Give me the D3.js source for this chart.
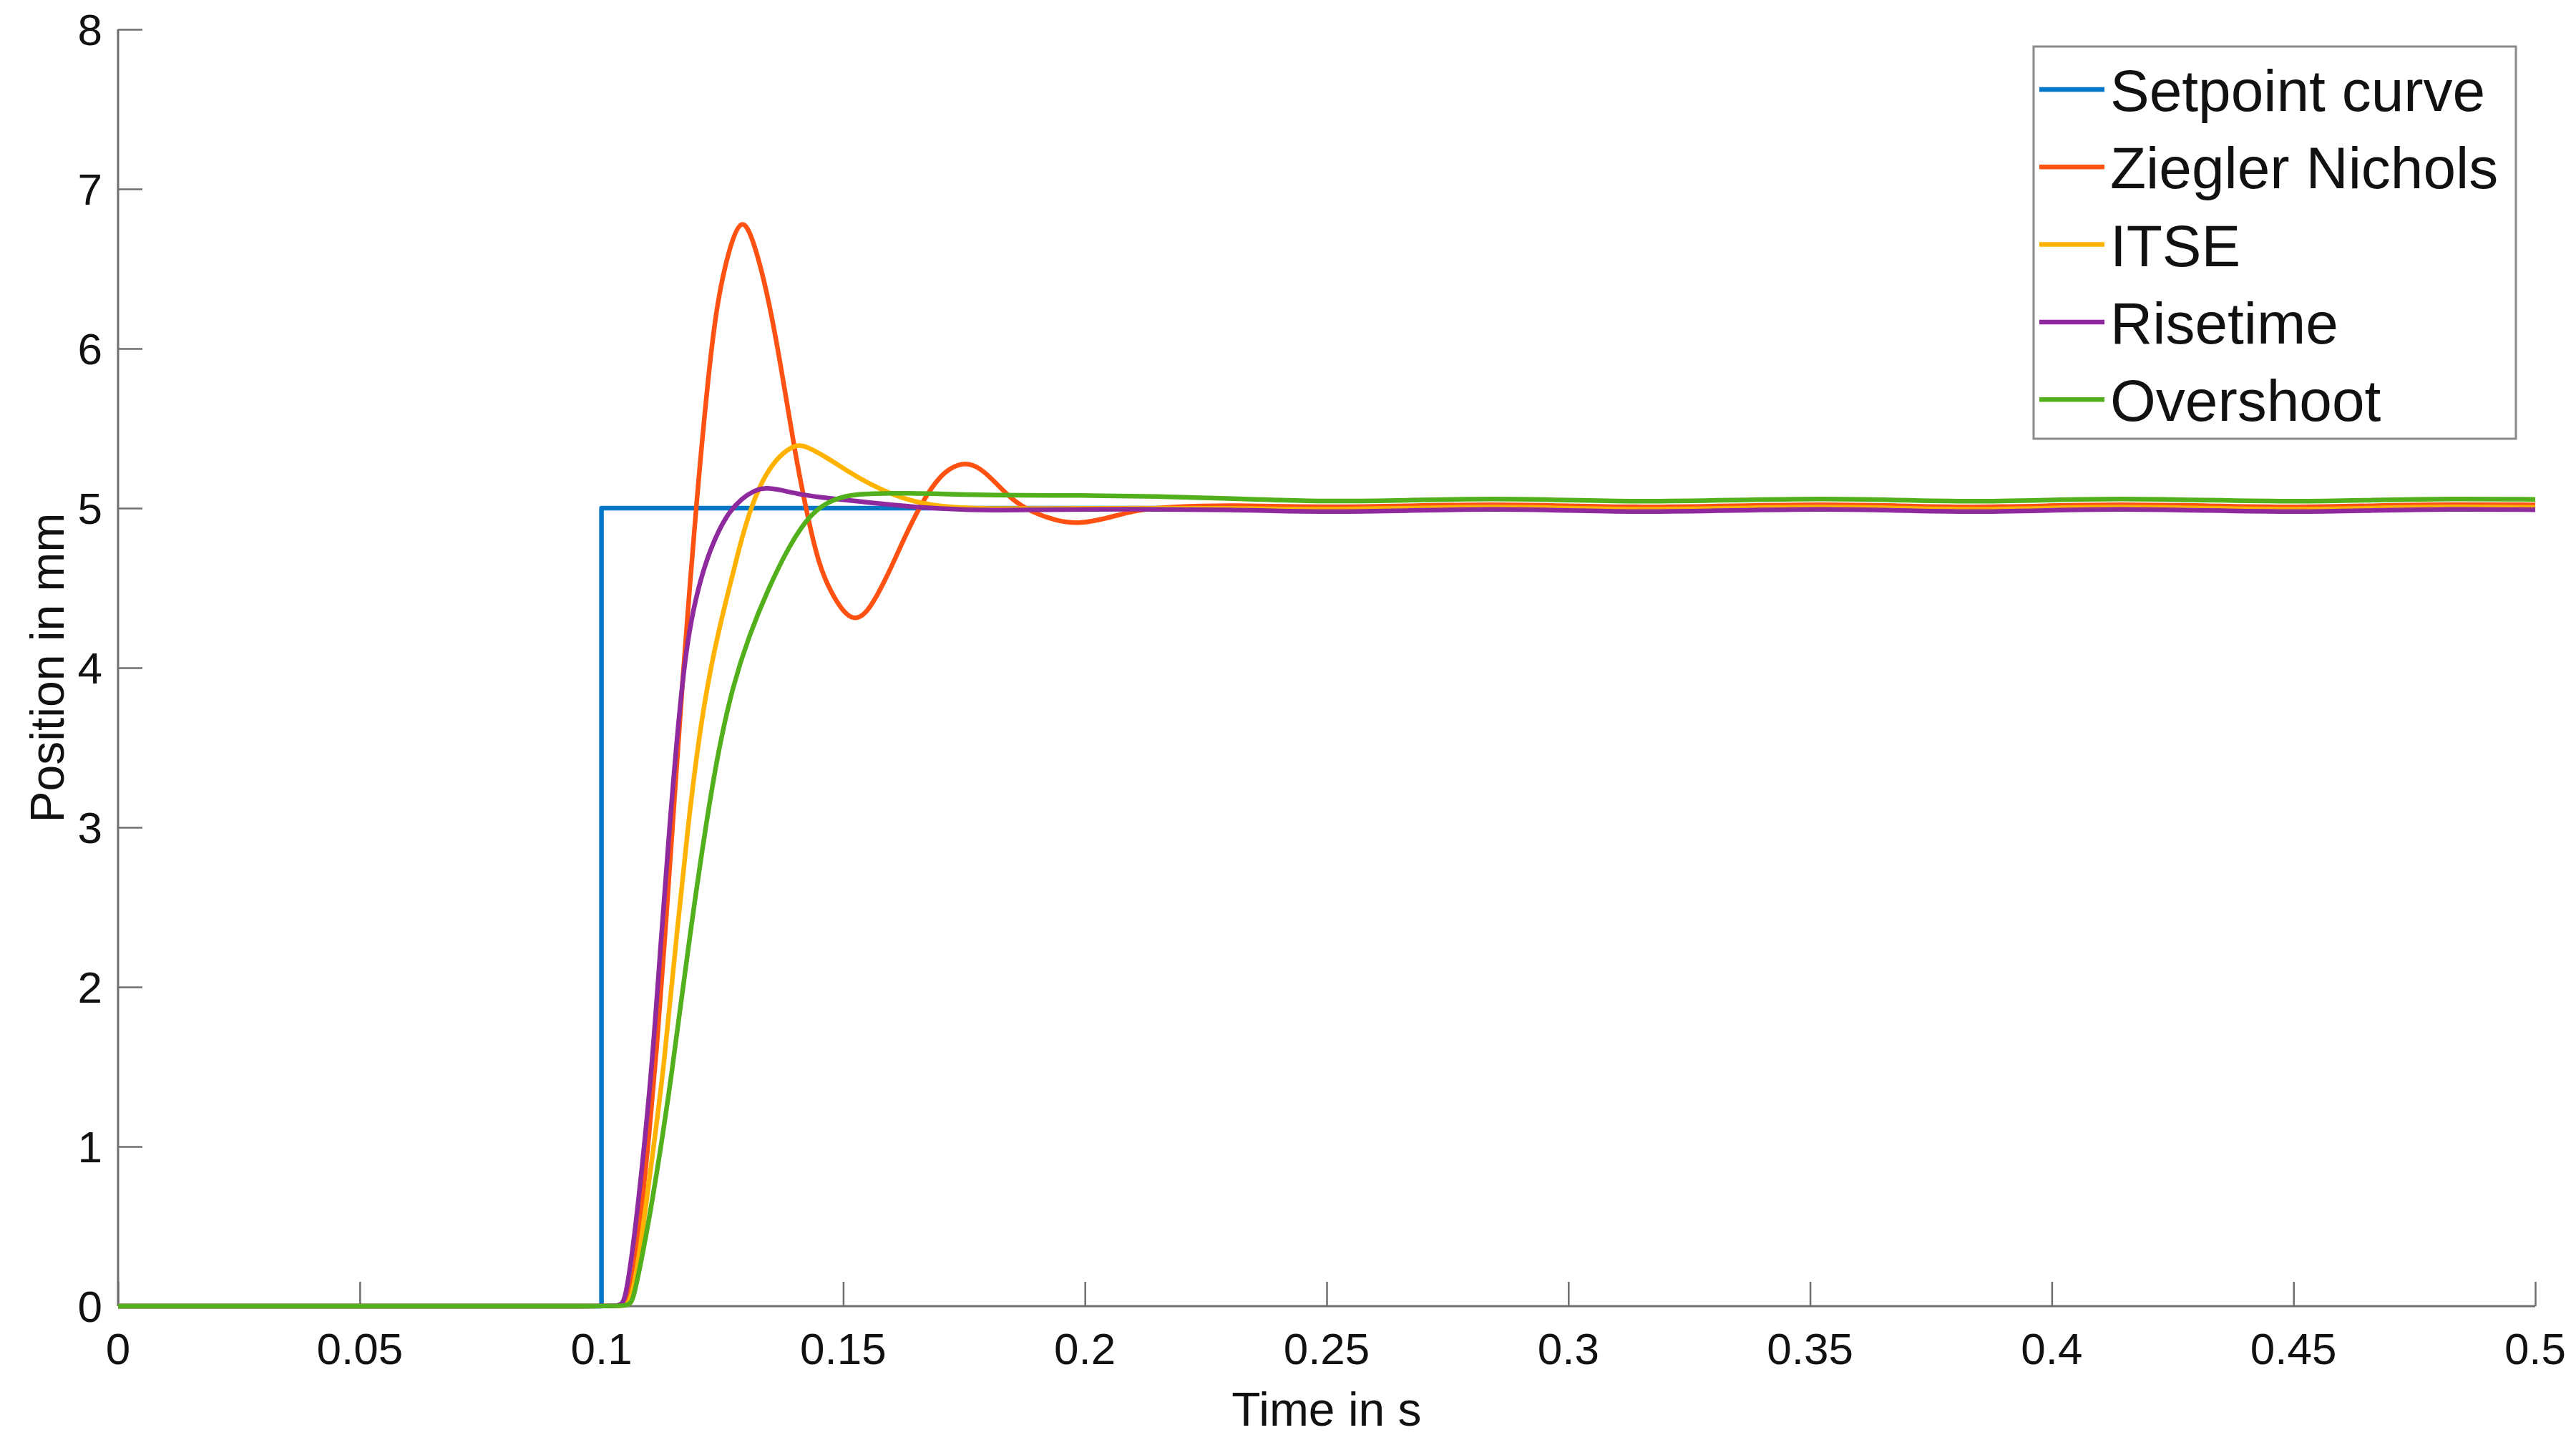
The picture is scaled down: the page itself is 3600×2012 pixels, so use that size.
<!DOCTYPE html>
<html>
<head>
<meta charset="utf-8">
<script src="https://cdn.jsdelivr.net/npm/d3@7"></script>
<style>
  html, body { margin: 0; padding: 0; background: #fff; }
  text { font-family: "Liberation Sans", Arial, sans-serif; fill: #111; }
</style>
</head>
<body>
<div id="chart"></div>
<script>
var width = 3600
var height = 2012
var margins = { left: 165, right: 57, top: 41, bottom: 187 }

// series names + colours
var seriesNames = ["Setpoint curve", "Ziegler Nichols", "ITSE", "Risetime", "Overshoot"]
var seriesColors = ["#0076c9", "#ff5212", "#ffb300", "#8e2a9e", "#52b01c"]

var xTicks = [0, 0.05, 0.1, 0.15, 0.2, 0.25, 0.3, 0.35, 0.4, 0.45, 0.5]
var xTickLabels = ["0", "0.05", "0.1", "0.15", "0.2", "0.25", "0.3", "0.35", "0.4", "0.45", "0.5"]
var yTicks = [0, 1, 2, 3, 4, 5, 6, 7, 8]

// common steady state sample times (after transients)
var steadyT = [0.23, 0.25, 0.267, 0.285, 0.30, 0.315, 0.334, 0.353, 0.368, 0.3835, 0.399, 0.414, 0.432, 0.451, 0.466, 0.482, 0.5]

var setpointT = [0, 0.1, 0.1, 0.5]
var setpointY = [0, 0, 5, 5]

var zieglerT = [0, 0.05, 0.1, 0.1045, 0.1055, 0.1068, 0.1083, 0.1098, 0.1114, 0.1131, 0.1148, 0.1167, 0.1195, 0.1223, 0.124, 0.1263, 0.129, 0.1315, 0.1347, 0.1375, 0.14, 0.1426, 0.145, 0.1475, 0.15, 0.1522, 0.1545, 0.157, 0.1595, 0.162, 0.1645, 0.167, 0.1695, 0.172, 0.1752, 0.1785, 0.1815, 0.185, 0.1887, 0.194, 0.199, 0.205, 0.2108, 0.218].concat(steadyT)
var zieglerY = [0, 0, 0, 0, 0.03, 0.2, 0.61, 1.05, 1.6, 2.3, 3.05, 3.9, 5.0, 5.9, 6.3, 6.62, 6.84, 6.68, 6.3, 5.82, 5.35, 4.95, 4.64, 4.47, 4.35, 4.30, 4.33, 4.45, 4.6, 4.77, 4.93, 5.07, 5.18, 5.25, 5.29, 5.25, 5.16, 5.05, 4.98, 4.92, 4.90, 4.94, 4.99, 5.01,
  5.02, 5.005, 5.015, 5.025, 5.015, 5.005, 5.015, 5.025, 5.015, 5.005, 5.015, 5.025, 5.015, 5.005, 5.015, 5.025, 5.02]

var itseT = [0, 0.05, 0.1, 0.105, 0.106, 0.1075, 0.1091, 0.111, 0.1129, 0.1153, 0.1179, 0.1205, 0.1232, 0.126, 0.1283, 0.1305, 0.1333, 0.1362, 0.139, 0.1412, 0.1435, 0.147, 0.151, 0.1555, 0.1605, 0.166, 0.172, 0.18, 0.2, 0.215].concat(steadyT)
var itseY = [0, 0, 0, 0, 0.03, 0.25, 0.61, 1.05, 1.5, 2.25, 3.02, 3.65, 4.1, 4.45, 4.73, 4.97, 5.18, 5.31, 5.38, 5.4, 5.37, 5.31, 5.23, 5.15, 5.08, 5.03, 5.005, 4.995, 5.0, 5.0,
  5.0, 4.99, 5.0, 5.01, 5.0, 4.99, 5.0, 5.01, 5.0, 4.99, 5.0, 5.01, 5.0, 4.99, 5.0, 5.01, 5.005]

var risetimeT = [0, 0.05, 0.1, 0.1038, 0.1048, 0.106, 0.1075, 0.1103, 0.1122, 0.1142, 0.1165, 0.1182, 0.12, 0.122, 0.1242, 0.1265, 0.129, 0.1315, 0.134, 0.137, 0.141, 0.1475, 0.154, 0.16, 0.168, 0.178, 0.19, 0.21].concat(steadyT)
var risetimeY = [0, 0, 0, 0, 0.03, 0.25, 0.61, 1.43, 2.25, 3.06, 3.87, 4.25, 4.5, 4.7, 4.86, 4.98, 5.06, 5.11, 5.13, 5.115, 5.085, 5.06, 5.04, 5.02, 5.0, 4.985, 4.99, 4.995,
  4.99, 4.975, 4.985, 4.995, 4.985, 4.975, 4.985, 4.995, 4.985, 4.975, 4.985, 4.995, 4.985, 4.975, 4.985, 4.995, 4.99]

var overshootT = [0, 0.05, 0.1, 0.1055, 0.1065, 0.108, 0.1103, 0.1145, 0.1179, 0.1218, 0.1243, 0.1271, 0.1305, 0.1344, 0.1389, 0.1433, 0.148, 0.153, 0.16, 0.17, 0.18, 0.2, 0.215].concat(steadyT)
var overshootY = [0, 0, 0, 0, 0.03, 0.25, 0.61, 1.43, 2.25, 3.06, 3.5, 3.88, 4.2, 4.49, 4.77, 4.97, 5.06, 5.09, 5.095, 5.09, 5.08, 5.08, 5.075,
  5.06, 5.04, 5.05, 5.06, 5.05, 5.04, 5.05, 5.06, 5.05, 5.04, 5.05, 5.06, 5.05, 5.04, 5.05, 5.06, 5.055]

var seriesT = [setpointT, zieglerT, itseT, risetimeT, overshootT]
var seriesY = [setpointY, zieglerY, itseY, risetimeY, overshootY]

var series = seriesNames.map((name, i) => ({
  name: name,
  color: seriesColors[i],
  points: seriesT[i].map((t, j) => ({ x: t, y: seriesY[i][j] }))
}))

var svg = d3.select("#chart").append("svg").attr("width", width).attr("height", height)

var xScale = d3.scaleLinear().domain([0, 0.5]).range([margins.left, width - margins.right])
var yScale = d3.scaleLinear().domain([0, 8]).range([height - margins.bottom, margins.top])

var axisColor = "#6e6e6e"
var tickLen = 34

// x axis (ticks pointing inward)
var xAxis = svg.append("g")
  .attr("transform", "translate(0," + yScale(0) + ")")
  .call(d3.axisTop(xScale).tickValues(xTicks).tickSize(tickLen).tickFormat(""))
xAxis.select(".domain").attr("stroke", axisColor).attr("stroke-width", 3).attr("d", "M" + xScale(0) + ",0H" + xScale(0.5))
xAxis.selectAll(".tick line").attr("stroke", axisColor).attr("stroke-width", 2.5)

svg.append("g").selectAll("text")
  .data(xTicks)
  .enter()
  .append("text")
    .attr("x", d => xScale(d))
    .attr("y", yScale(0) + 81)
    .attr("text-anchor", "middle")
    .style("font-size", "62px")
    .text((d, i) => xTickLabels[i])

// y axis
var yAxis = svg.append("g")
  .attr("transform", "translate(" + xScale(0) + ",0)")
  .call(d3.axisRight(yScale).tickValues(yTicks).tickSize(tickLen).tickFormat(""))
yAxis.select(".domain").attr("stroke", axisColor).attr("stroke-width", 3).attr("d", "M0," + yScale(8) + "V" + yScale(0))
yAxis.selectAll(".tick line").attr("stroke", axisColor).attr("stroke-width", 2.5)

svg.append("g").selectAll("text")
  .data(yTicks)
  .enter()
  .append("text")
    .attr("x", xScale(0) - 22)
    .attr("y", d => yScale(d) + 22)
    .attr("text-anchor", "end")
    .style("font-size", "62px")
    .text(d => d)

svg.append("text")
  .attr("x", (xScale(0) + xScale(0.5)) / 2)
  .attr("y", 1992)
  .attr("text-anchor", "middle")
  .style("font-size", "66px")
  .text("Time in s")

svg.append("text")
  .attr("transform", "translate(89," + (yScale(0) + yScale(8)) / 2 + ") rotate(-90)")
  .attr("text-anchor", "middle")
  .style("font-size", "66px")
  .text("Position in mm")

// curves - basis spline smooths out the read-off jitter
var line = d3.line()
  .x(d => xScale(d.x))
  .y(d => yScale(d.y))
  .curve(d3.curveBasis)

var stepLine = d3.line()
  .x(d => xScale(d.x))
  .y(d => yScale(d.y))

svg.append("g").selectAll("path")
  .data(series)
  .enter()
  .append("path")
    .attr("fill", "none")
    .attr("stroke", d => d.color)
    .attr("stroke-width", 6.5)
    .attr("stroke-linejoin", "round")
    .attr("d", (d, i) => i == 0 ? stepLine(d.points) : line(d.points))

// legend
var legend = svg.append("g")
legend.append("rect")
  .attr("x", 2842)
  .attr("y", 65)
  .attr("width", 674)
  .attr("height", 548)
  .attr("fill", "#fff")
  .attr("stroke", "#8a8a8a")
  .attr("stroke-width", 3)

var rows = legend.selectAll(".legend-row")
  .data(series)
  .enter()
  .append("g")
    .attr("class", "legend-row")
    .attr("transform", (d, i) => "translate(0," + (125 + i * 108.3) + ")")

rows.append("line")
  .attr("x1", 2850)
  .attr("x2", 2941)
  .attr("stroke", d => d.color)
  .attr("stroke-width", 6.5)

rows.append("text")
  .attr("x", 2949)
  .attr("y", 30)
  .style("font-size", "82px")
  .text(d => d.name)
</script>
</body>
</html>
